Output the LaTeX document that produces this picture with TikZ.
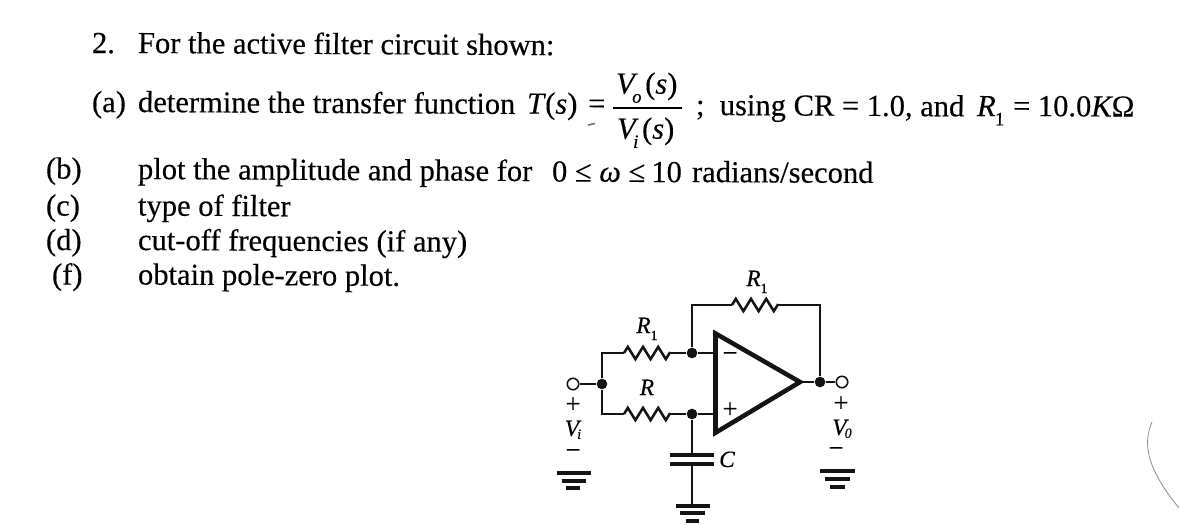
\documentclass[tikz,border=0pt]{standalone}
\usepackage{fontspec}
\setmainfont{Liberation Serif}[FakeBold=0.3]
\usetikzlibrary{decorations.pathmorphing}
\newcommand{\bodyfont}{\fontsize{22.9}{26}\selectfont}
\newcommand{\subfont}{\fontsize{14}{16}\selectfont}
\newcommand{\circfont}{\fontsize{17.5}{20}\selectfont}
\newcommand{\signfont}{\fontsize{20}{22}\selectfont}
\newcommand{\circsub}{\fontsize{10.5}{12}\selectfont}
\newcommand{\lowsub}[1]{\raisebox{-0.3em}{\subfont\itshape #1}}
\newcommand{\csub}[1]{\raisebox{-0.3em}{\circsub\upshape #1}}
\tikzset{
  x=0.75pt,y=-0.75pt,
  txt/.style={anchor=base west,inner sep=0pt,outer sep=0pt,font=\bodyfont,text=black,rotate=-0.3},
  lbl/.style={anchor=base,inner sep=0pt,outer sep=0pt,font=\circfont,text=black},
  sign/.style={inner sep=0pt,outer sep=0pt,font=\signfont,text=black},
  wire/.style={draw=black!92,line width=1.3pt,line join=miter},
  opamp/.style={draw=black!92,line width=3.4pt,line join=miter},
  resistor/.style={draw=black!92,line width=1.9pt,line join=miter,decorate,
    decoration={zigzag,segment length=11.4pt,amplitude=4.6pt}},
  plate/.style={draw=black!92,line width=2.4pt},
  gnd/.style={draw=black!92,line width=2.5pt},
  dot/.style={circle,fill=black!92,inner sep=0pt,minimum size=8pt},
  term/.style={circle,draw=black!92,fill=white,line width=1.2pt,inner sep=0pt,minimum size=8.6pt},
  scan/.style={draw=black!45,line width=0.6pt}
}
\begin{document}
\begin{tikzpicture}
\useasboundingbox (0,0) rectangle (1179,525);
% text
\node[txt] (n2) at (92,53) {2.};
\node[txt] (l1) at (138,53) {For the active filter circuit shown:};
\node[txt] (na) at (92,112) {(a)};
\node[txt] (l2) at (138,112) {determine the transfer function};
\node[txt] (T) at (527,113.5) {\itshape T\kern0.04em\upshape(\itshape s\upshape)};
\node[txt] (eq) at (588,113.5) {=};
\node[txt] (num) at (616,93.5) {\itshape V\kern-0.08em\lowsub{o}\kern0.12em\upshape(\itshape s\upshape)};
\node[txt] (den) at (617,138.5) {\itshape V\kern-0.08em\lowsub{i}\kern0.12em\upshape(\itshape s\upshape)};
\coordinate (fa) at (613,108);
\coordinate (fb) at (682,108);
\draw[draw=black,line width=1.1pt] (fa) -- (fb);
\node[txt] (l2b) at (696,115) {;\hspace{0.5em}using CR = 1.0, and};
\node[txt] (r1eq) at (977,116) {\itshape R\kern-0.02em\raisebox{-0.3em}{\subfont\upshape 1}};
\node[txt] (r1v) at (1013,116) {= 10.0\itshape K\upshape Ω};
\node[txt] (nb) at (46,178.5) {(b)};
\node[txt] (l3) at (138,179) {plot the amplitude and phase for};
\node[txt] (range) at (552,181.5) {0 ≤ \itshape ω\upshape\ ≤\kern0.2em10};
\node[txt] (l3b) at (692,182) {radians/second};
\node[txt] (nc) at (46,215.5) {(c)};
\node[txt] (l4) at (138,215.5) {type of filter};
\node[txt] (nd) at (46,250) {(d)};
\node[txt] (l5) at (138,250) {cut-off frequencies (if any)};
\node[txt] (nf) at (52,284.5) {(f)};
\node[txt] (l6) at (138,284.5) {obtain pole-zero plot.};
% circuit nodes
\node[term] (vi) at (573,384) {};
\node[dot] (j) at (602,384) {};
\node[dot] (m) at (692,353) {};
\node[dot] (p) at (692,414) {};
\node[dot] (o) at (820,382) {};
\node[term] (vo) at (842,382) {};
\coordinate (jt) at (602,353);
\coordinate (jb) at (602,414);
\coordinate (r1a) at (624,353);
\coordinate (r1b) at (670,353);
\coordinate (r2a) at (624,414);
\coordinate (r2b) at (670,414);
\coordinate (fbl) at (692,305);
\coordinate (fbr) at (820,305);
\coordinate (r3a) at (732,305);
\coordinate (r3b) at (778,305);
\coordinate (oa) at (715.5,333.5);
\coordinate (ob) at (715.5,432.7);
\coordinate (tip) at (800,382);
\coordinate (inm) at (715,353);
\coordinate (inp) at (715,414);
\coordinate (c1) at (692,455);
\coordinate (c2) at (692,464);
\coordinate (g) at (692,506);
% wires
\draw[wire] (vi) -- (j);
\draw[wire] (j) -- (jt) -- (r1a);
\draw[wire] (j) -- (jb) -- (r2a);
\draw[wire] (r1b) -- (m) -- (inm);
\draw[wire] (r2b) -- (p) -- (inp);
\draw[wire] (m) -- (fbl) -- (r3a);
\draw[wire] (r3b) -- (fbr) -- (o);
\draw[wire] (tip) -- (o) -- (vo);
\draw[wire] (p) -- (c1);
\draw[wire] (c2) -- (g);
\draw[resistor] (r1a) -- (r1b);
\draw[resistor] (r2a) -- (r2b);
\draw[resistor] (r3a) -- (r3b);
\draw[opamp] (oa) -- (tip) -- (ob) -- cycle;
\draw[plate] (670,455) -- (714,455);
\draw[plate] (670,464) -- (714,464);
\draw[gnd] (676,506) -- (710,506);
\draw[gnd] (680,513) -- (705,513);
\draw[gnd] (686,521) -- (699,521);
\draw[gnd] (557,473) -- (591,473);
\draw[gnd] (562,481) -- (586,481);
\draw[gnd] (566,488) -- (580,488);
\draw[gnd] (820,471) -- (855,471);
\draw[gnd] (825,479) -- (850,479);
\draw[gnd] (830,487) -- (845,487);
% labels
\node[lbl] (lr3) at (757,286) {\itshape R\csub{1}};
\node[lbl] (lr1) at (647,333) {\itshape R\csub{1}};
\node[lbl] (lr2) at (647,395) {\itshape R};
\node[lbl] (lc) at (727,467) {\itshape C};
\node[sign] (opm) at (730,357) {−};
\node[sign] (opp) at (730,410) {+};
\node[sign] (vip) at (573,405) {+};
\node[lbl] (viv) at (573,436) {\itshape V\kern-0.08em\raisebox{-0.12em}{\circsub\itshape i}};
\node[sign] (vim) at (573,454) {−};
\node[sign] (vop) at (841,404) {+};
\node[lbl] (vov) at (842,435) {\itshape V\kern-0.08em\raisebox{-0.12em}{\circsub\itshape 0}};
\node[sign] (vom) at (836,452) {−};
% scan marks
\draw[draw=black!55,line width=1.2pt] (588,125) -- (595,123.5);
\draw[scan] (1152,422) .. controls (1142,445) and (1148,470) .. (1179,508);
\end{tikzpicture}
\end{document}
